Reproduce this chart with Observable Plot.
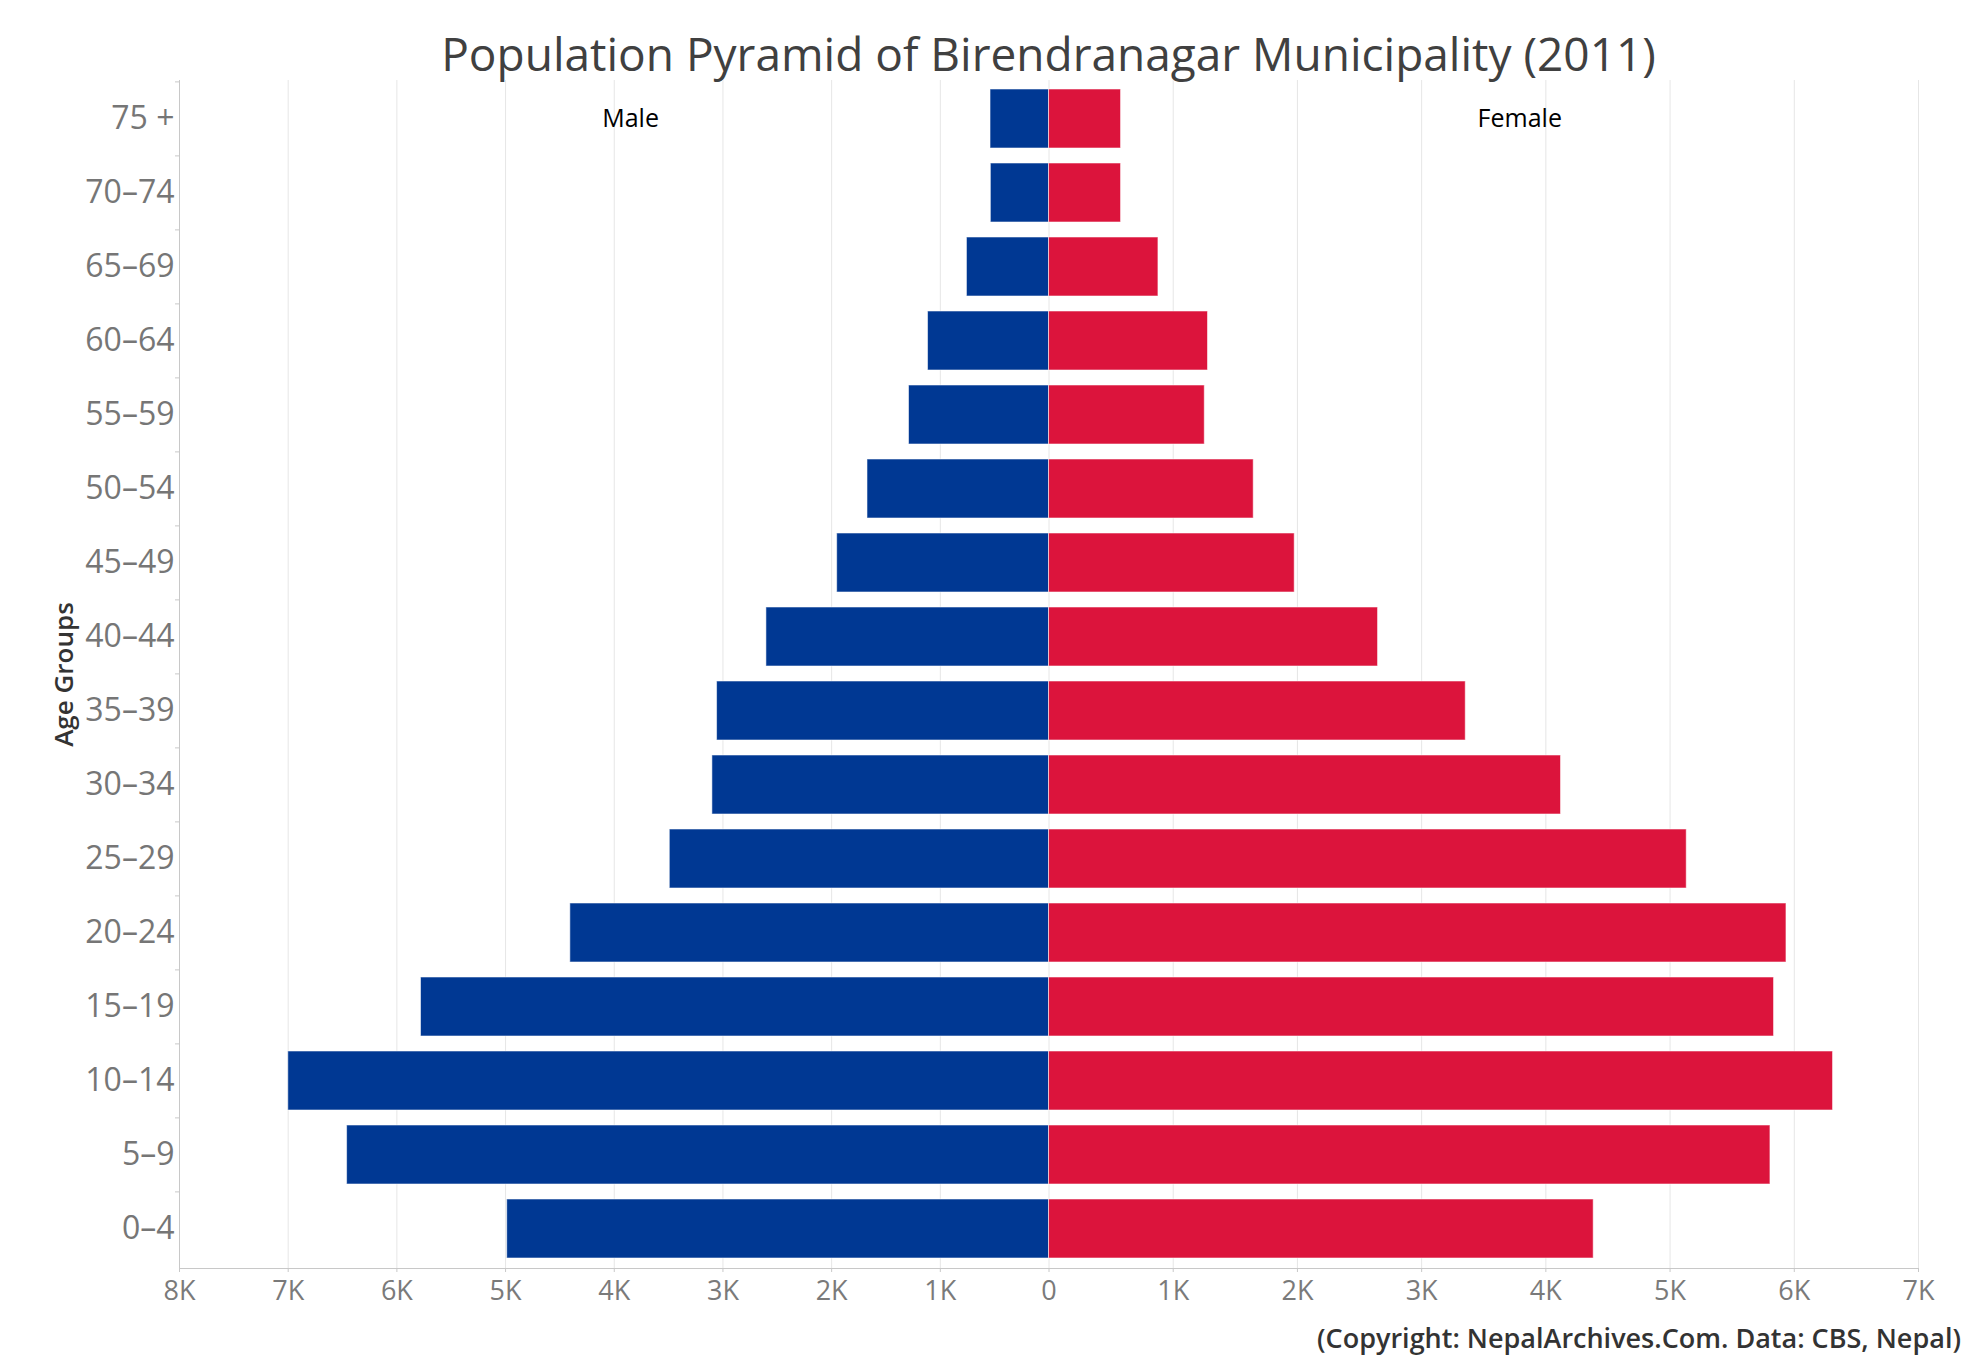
<!DOCTYPE html>
<html>
<head>
<meta charset="utf-8">
<script src="https://cdn.jsdelivr.net/npm/d3@7"></script>
<script src="https://cdn.jsdelivr.net/npm/@observablehq/plot@0.6"></script>
<style>
  html, body { margin: 0; padding: 0; background: #fff; }
  body { width: 1985px; font-family: "Open Sans", "Noto Sans", sans-serif; }
  #title {
    box-sizing: border-box; height: 75px; padding-top: 31px; padding-left: 112px;
    font-size: 46px; line-height: 45px; text-align: center; color: #404040;
    white-space: nowrap;
  }
  #credit {
    height: 40px; line-height: 40px; text-align: right; padding-right: 24px;
    font-size: 27px; font-weight: 600; color: #333;
  }
</style>
</head>
<body>
<div id="title">Population Pyramid of Birendranagar Municipality (2011)</div>
<div id="chart"></div>
<div id="credit">(Copyright: NepalArchives.Com. Data: CBS, Nepal)</div>
<script>
// Age groups, oldest first (top of the pyramid)
const ageGroups = ["75 +", "70–74", "65–69", "60–64", "55–59", "50–54", "45–49", "40–44",
                   "35–39", "30–34", "25–29", "20–24", "15–19", "10–14", "5–9", "0–4"];
const male   = [538, 535, 755, 1113, 1288, 1670, 1949, 2600, 3054, 3097, 3489, 4404, 5778, 6999, 6458, 4985];
const female = [580, 580, 881, 1280, 1254, 1648, 1978, 2649, 3355, 4122, 5134, 5937, 5837, 6312, 5808, 4385];
const sexes = ["Male", "Female"];
const sexColors = ["#003893", "#dc143c"];
// Axis ticks: males run leftward to 8K, females rightward to 7K
const xTicks = [-8000, -7000, -6000, -5000, -4000, -3000, -2000, -1000, 0, 1000, 2000, 3000, 4000, 5000, 6000, 7000];
// Series captions placed in the top row
const captionX = [-3850, 3790];

const rows = [];
ageGroups.forEach((g, i) => {
  rows.push({age: g, sex: "Male", value: -male[i]});
  rows.push({age: g, sex: "Female", value: female[i]});
});
const captions = sexes.map((s, i) => ({sex: s, x: captionX[i], age: ageGroups[0]}));

const W = 1985, H = 1243, ML = 179, MR = 67, MT = 5, MB = 50;
const half = (W - ML - MR) / 2;
const step = (H - MT - MB) / ageGroups.length;
const fmt = d => d === 0 ? "0" : Math.abs(d) / 1000 + "K";

const chart = Plot.plot({
  width: W, height: H,
  marginLeft: ML, marginRight: MR, marginTop: MT, marginBottom: MB,
  style: {fontFamily: "'Open Sans', 'Noto Sans', sans-serif", background: "#fff", overflow: "visible"},
  // Piecewise linear: each side gets the same width, with its own extent (8K vs 7K)
  x: {type: "linear", domain: [-8000, 0, 7000], range: [ML, ML + half, W - MR], label: null},
  y: {domain: ageGroups, paddingInner: 0.2, paddingOuter: 0.1, label: null},
  color: {domain: sexes, range: sexColors},
  marks: [
    Plot.gridX(xTicks, {stroke: "#e6e6e6", strokeOpacity: 1, strokeWidth: 1}),
    Plot.barX(rows, {
      y: "age", x1: 0, x2: "value", fill: "sex",
      stroke: "#fff", strokeOpacity: 0.55, strokeWidth: 1
    }),
    Plot.ruleX([xTicks[0]], {stroke: "#c8c8c8", strokeWidth: 1}),
    Plot.frame({anchor: "bottom", stroke: "#c8c8c8", strokeWidth: 1}),
    Plot.axisX(xTicks, {
      tickFormat: fmt, tickSize: 4, tickPadding: 8, fontSize: 27,
      stroke: "#c8c8c8", fill: "#7a7a7a", label: null
    }),
    // band boundary ticks on the category axis
    Plot.axisY({tickSize: 4, tickFormat: () => "", dy: -step / 2, stroke: "#c8c8c8", label: null}),
    Plot.axisY({
      tickSize: 0, tickPadding: 5, fontSize: 32, fill: "#767676",
      label: null
    }),
    Plot.axisY({
      tickSize: 0, tickFormat: () => "", label: "Age Groups", labelAnchor: "center",
      labelOffset: 125, labelArrow: "none", fontSize: 26, fontWeight: 600, fill: "#333"
    }),
    Plot.text(captions, {x: "x", y: "age", text: "sex", fontSize: 25, fill: "#000"})
  ]
});
document.getElementById("chart").appendChild(chart);
</script>
</body>
</html>
